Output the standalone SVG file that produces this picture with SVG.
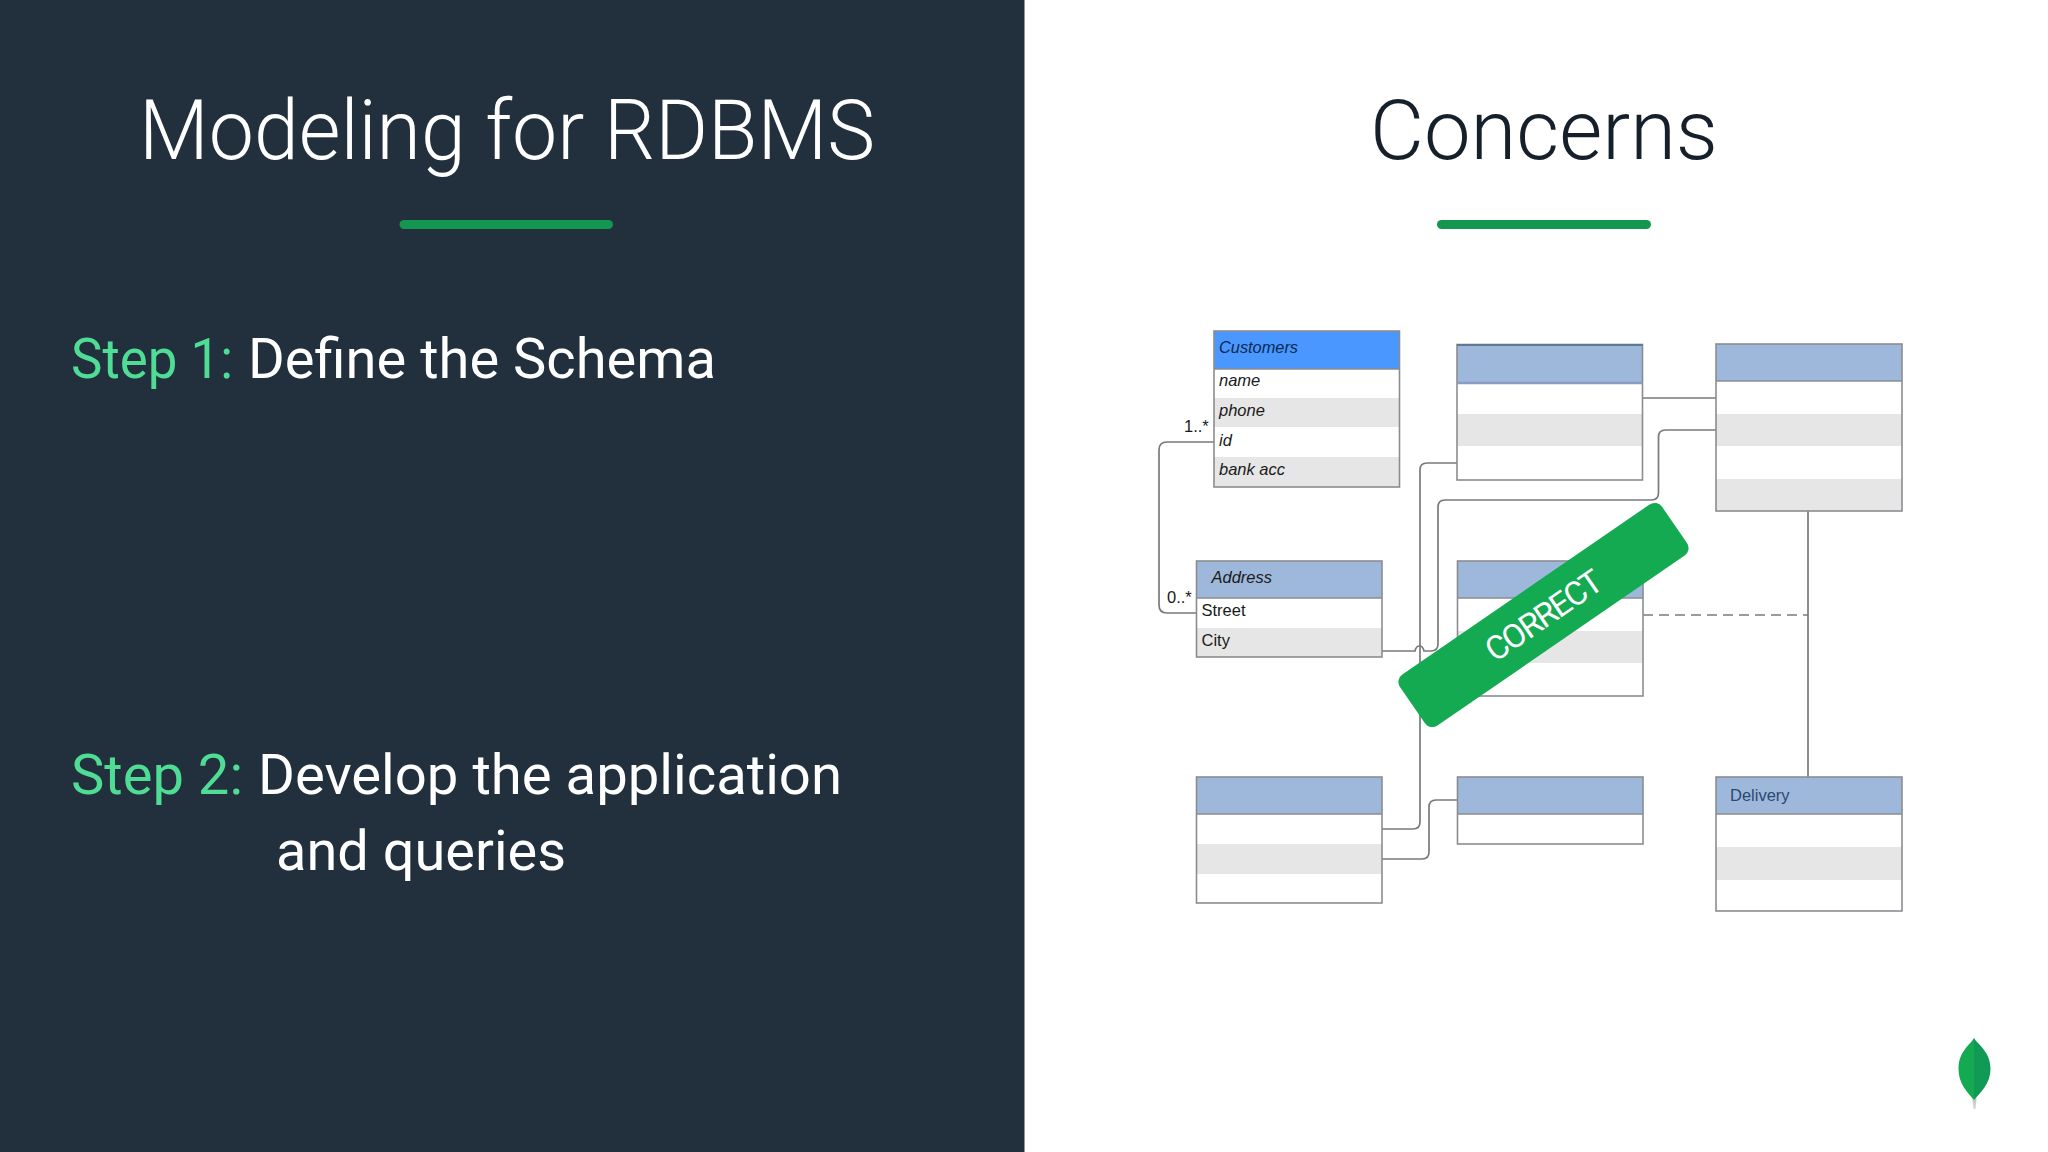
<svg xmlns="http://www.w3.org/2000/svg" width="2048" height="1152" viewBox="0 0 2048 1152">
<defs>
<linearGradient id="stem" x1="0" y1="0" x2="0" y2="1"><stop offset="0" stop-color="#8fbf9f"/><stop offset="1" stop-color="#d5d8da"/></linearGradient>
</defs>
<style>
.title{font-family:"Roboto","Liberation Sans",sans-serif;font-weight:300;font-size:83px}
.step{font-family:"Roboto","Liberation Sans",sans-serif;font-weight:400;font-size:56px}
.g{fill:#4fdc94}
.w{fill:#ffffff}
.bar{fill:#13964f}
.box{fill:none;stroke:#8a8d90;stroke-width:1.6}
.hd{fill:#9eb8dc}
.hdc{fill:#4a97ff}
.wh{fill:#ffffff}
.alt{fill:#e6e6e6}
.sep{stroke:#8a8d90;stroke-width:1.6}
.t{font-family:"Liberation Sans",Arial,sans-serif;font-size:16.5px;fill:#1a1a1a}
.i{font-style:italic}
.c{fill:none;stroke:#77797c;stroke-width:1.7}
</style>

<rect x="0" y="0" width="2048" height="1152" fill="#ffffff"/>
<rect x="0" y="0" width="1024.5" height="1152" fill="#22303e"/>

<g id="left-panel">
<text class="title w" x="139" y="159" textLength="736" lengthAdjust="spacingAndGlyphs">Modeling for RDBMS</text>
<rect class="bar" x="399.5" y="220" width="213.5" height="9" rx="4.5"/>
<text class="step g" x="71" y="378" textLength="162" lengthAdjust="spacingAndGlyphs">Step 1:</text>
<text class="step w" x="248" y="378" textLength="468" lengthAdjust="spacingAndGlyphs">Define the Schema</text>
<text class="step g" x="71" y="794" textLength="172" lengthAdjust="spacingAndGlyphs">Step 2:</text>
<text class="step w" x="258" y="794" textLength="584" lengthAdjust="spacingAndGlyphs">Develop the application</text>
<text class="step w" x="276" y="870" textLength="290" lengthAdjust="spacingAndGlyphs">and queries</text>
</g>

<g id="right-heading">
<text class="title" fill="#16202a" x="1370" y="159" textLength="348" lengthAdjust="spacingAndGlyphs">Concerns</text>
<rect class="bar" x="1437" y="220" width="214" height="9" rx="4.5"/>
</g>

<g id="connectors">
<path class="c" d="M1214 442H1167Q1159 442 1159 450V605Q1159 613 1167 613H1196.5"/>
<text class="t" x="1184" y="431.5">1..*</text>
<text class="t" x="1167" y="602.5">0..*</text>
<path class="c" d="M1457 463H1427Q1420 463 1420 470V822Q1420 829 1413 829H1382"/>
<path class="c" d="M1382 651H1415Q1416 646 1419.5 646Q1423 646 1424 651H1431Q1438 651 1438 644V507Q1438 500 1445 500H1651.5Q1658.5 500 1658.5 493V437Q1658.5 430 1665.5 430H1716"/>
<path class="c" d="M1643 398H1716"/>
<path class="c" d="M1643 615H1808" stroke-dasharray="10 6"/>
<path class="c" d="M1808 511V777"/>
<path class="c" d="M1382 859H1422Q1429 859 1429 852V807Q1429 800 1436 800H1457"/>
</g>

<g id="customers">
<rect class="hdc" x="1214" y="331" width="185.500" height="38"/>
<rect class="wh" x="1214" y="369" width="185.500" height="29"/>
<rect class="alt" x="1214" y="398" width="185.500" height="29"/>
<rect class="wh" x="1214" y="427" width="185.500" height="30"/>
<rect class="alt" x="1214" y="457" width="185.500" height="30"/>
<rect class="box" x="1214" y="331" width="185.500" height="156"/>
<line class="sep" x1="1214" y1="369" x2="1399.500" y2="369"/>
<text class="t i" x="1219" y="353" style="fill:#0b2a50" textLength="79" lengthAdjust="spacingAndGlyphs">Customers</text>
<text class="t i" x="1219" y="386">name</text>
<text class="t i" x="1219" y="416">phone</text>
<text class="t i" x="1219" y="445.5">id</text>
<text class="t i" x="1219" y="475">bank acc</text>
</g>

<g id="table-top-middle">
<rect class="hd" x="1457" y="344" width="185.500" height="39"/>
<rect class="wh" x="1457" y="383" width="185.500" height="31"/>
<rect class="alt" x="1457" y="414" width="185.500" height="32"/>
<rect class="wh" x="1457" y="446" width="185.500" height="34"/>
<rect class="box" x="1457" y="344.500" width="185.500" height="135.500"/>
<line x1="1457" y1="345" x2="1642.500" y2="345" stroke="#5f7896" stroke-width="2"/>
<line x1="1457" y1="383" x2="1642.500" y2="383" stroke="#8a9cc4" stroke-width="2.500"/>
</g>

<g id="table-top-right">
<rect class="hd" x="1716" y="344" width="186" height="37"/>
<rect class="wh" x="1716" y="381" width="186" height="33"/>
<rect class="alt" x="1716" y="414" width="186" height="32"/>
<rect class="wh" x="1716" y="446" width="186" height="33"/>
<rect class="alt" x="1716" y="479" width="186" height="32"/>
<rect class="box" x="1716" y="344" width="186" height="167"/>
<line class="sep" x1="1716" y1="381" x2="1902" y2="381"/>
</g>

<g id="address">
<rect class="hd" x="1196.500" y="561" width="185.500" height="37"/>
<rect class="wh" x="1196.500" y="598" width="185.500" height="30"/>
<rect class="alt" x="1196.500" y="628" width="185.500" height="29"/>
<rect class="box" x="1196.500" y="561" width="185.500" height="96"/>
<line class="sep" x1="1196.500" y1="598" x2="1382" y2="598"/>
<text class="t i" x="1211.500" y="583">Address</text>
<text class="t" x="1201.500" y="616">Street</text>
<text class="t" x="1201.500" y="646">City</text>
</g>

<g id="table-center">
<rect class="hd" x="1457.500" y="561" width="185.500" height="37"/>
<rect class="wh" x="1457.500" y="598" width="185.500" height="33"/>
<rect class="alt" x="1457.500" y="631" width="185.500" height="32"/>
<rect class="wh" x="1457.500" y="663" width="185.500" height="33"/>
<rect class="box" x="1457.500" y="561" width="185.500" height="135"/>
<line class="sep" x1="1457.500" y1="598" x2="1643" y2="598"/>
</g>

<g id="table-bottom-left">
<rect class="hd" x="1196.500" y="777" width="185.500" height="37"/>
<rect class="wh" x="1196.500" y="814" width="185.500" height="30"/>
<rect class="alt" x="1196.500" y="844" width="185.500" height="30"/>
<rect class="wh" x="1196.500" y="874" width="185.500" height="29"/>
<rect class="box" x="1196.500" y="777" width="185.500" height="126"/>
<line class="sep" x1="1196.500" y1="814" x2="1382" y2="814"/>
</g>

<g id="table-bottom-middle">
<rect class="hd" x="1457.500" y="777" width="185.500" height="37"/>
<rect class="wh" x="1457.500" y="814" width="185.500" height="30"/>
<rect class="box" x="1457.500" y="777" width="185.500" height="67"/>
<line class="sep" x1="1457.500" y1="814" x2="1643" y2="814"/>
</g>

<g id="delivery">
<rect class="hd" x="1716" y="777" width="186" height="37"/>
<rect class="wh" x="1716" y="814" width="186" height="33"/>
<rect class="alt" x="1716" y="847" width="186" height="33"/>
<rect class="wh" x="1716" y="880" width="186" height="31"/>
<rect class="box" x="1716" y="777" width="186" height="134"/>
<line class="sep" x1="1716" y1="814" x2="1902" y2="814"/>
<text class="t" x="1730" y="801" style="fill:#2c4770">Delivery</text>
</g>

<g id="correct-badge" transform="translate(1543.500 615) rotate(-34.500)">
<rect x="-159" y="-31" width="318" height="62" rx="9" fill="#13aa52"/>
<text x="0" y="12" text-anchor="middle" font-family="Roboto,'Liberation Sans',sans-serif" font-size="33" fill="#ffffff" textLength="134" lengthAdjust="spacing">CORRECT</text>
</g>

<g id="leaf">
<path d="M1974 1085L1972.500 1099L1973.500 1109H1975.500L1976.500 1099Z" fill="url(#stem)"/>
<path d="M1974 1037.500C1972 1044 1958.500 1050 1958.500 1069C1958.500 1084 1968 1093 1974 1100Z" fill="#13aa52"/>
<path d="M1974 1037.500C1976 1044 1990.500 1050 1990.500 1069C1990.500 1084 1980 1093 1974 1100Z" fill="#109a55"/>
</g>
</svg>
